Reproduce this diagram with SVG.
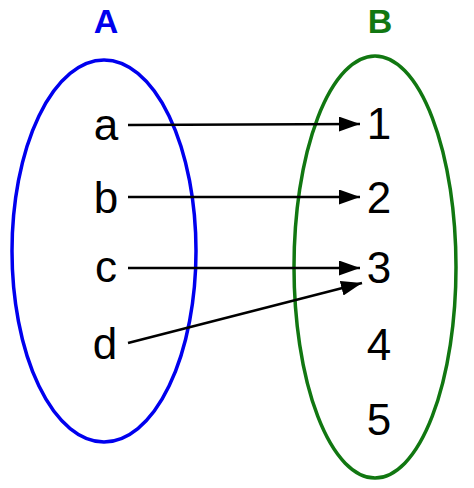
<svg xmlns="http://www.w3.org/2000/svg" width="474" height="488" viewBox="0 0 474 488">
<style>
.lbl{font-family:"Liberation Sans",Arial,sans-serif;font-size:44px;fill:#000;text-anchor:middle}
.ttl{font-family:"Liberation Sans",Arial,sans-serif;font-size:34px;font-weight:bold;text-anchor:middle}
.set{fill:none;stroke-width:3.5}
.conn{stroke:#000;stroke-width:2.5;fill:none;marker-end:url(#ah)}
</style>
<defs>
<marker id="ah" markerWidth="21" markerHeight="15" refX="21" refY="7.5" orient="auto" markerUnits="userSpaceOnUse">
<path d="M0,0 L21,7.5 L0,15 z" fill="#000"/>
</marker>
</defs>
<rect width="474" height="488" fill="#fff"/>
<g id="setA">
<ellipse class="set" cx="104" cy="251" rx="92" ry="191" stroke="#0000ee"/>
<text class="ttl" x="106" y="33" fill="#0000ee">A</text>
</g>
<g id="setB">
<ellipse class="set" cx="375" cy="267" rx="81" ry="211" stroke="#117711"/>
<text class="ttl" x="380" y="33" fill="#117711">B</text>
</g>
<g id="node-a"><text class="lbl" x="106" y="140">a</text></g>
<g id="node-b"><text class="lbl" x="106" y="213">b</text></g>
<g id="node-c"><text class="lbl" x="106" y="282">c</text></g>
<g id="node-d"><text class="lbl" x="105" y="359">d</text></g>
<g id="node-1"><text class="lbl" x="379" y="139">1</text></g>
<g id="node-2"><text class="lbl" x="379" y="213">2</text></g>
<g id="node-3"><text class="lbl" x="379" y="283">3</text></g>
<g id="node-4"><text class="lbl" x="379" y="360">4</text></g>
<g id="node-5"><text class="lbl" x="379" y="435">5</text></g>
<g id="connectors">
<line class="conn" x1="128" y1="125" x2="360" y2="124"/>
<line class="conn" x1="128" y1="197" x2="360" y2="197"/>
<line class="conn" x1="128" y1="268" x2="360" y2="268"/>
<line class="conn" x1="128" y1="343" x2="362" y2="283"/>
</g>
</svg>
